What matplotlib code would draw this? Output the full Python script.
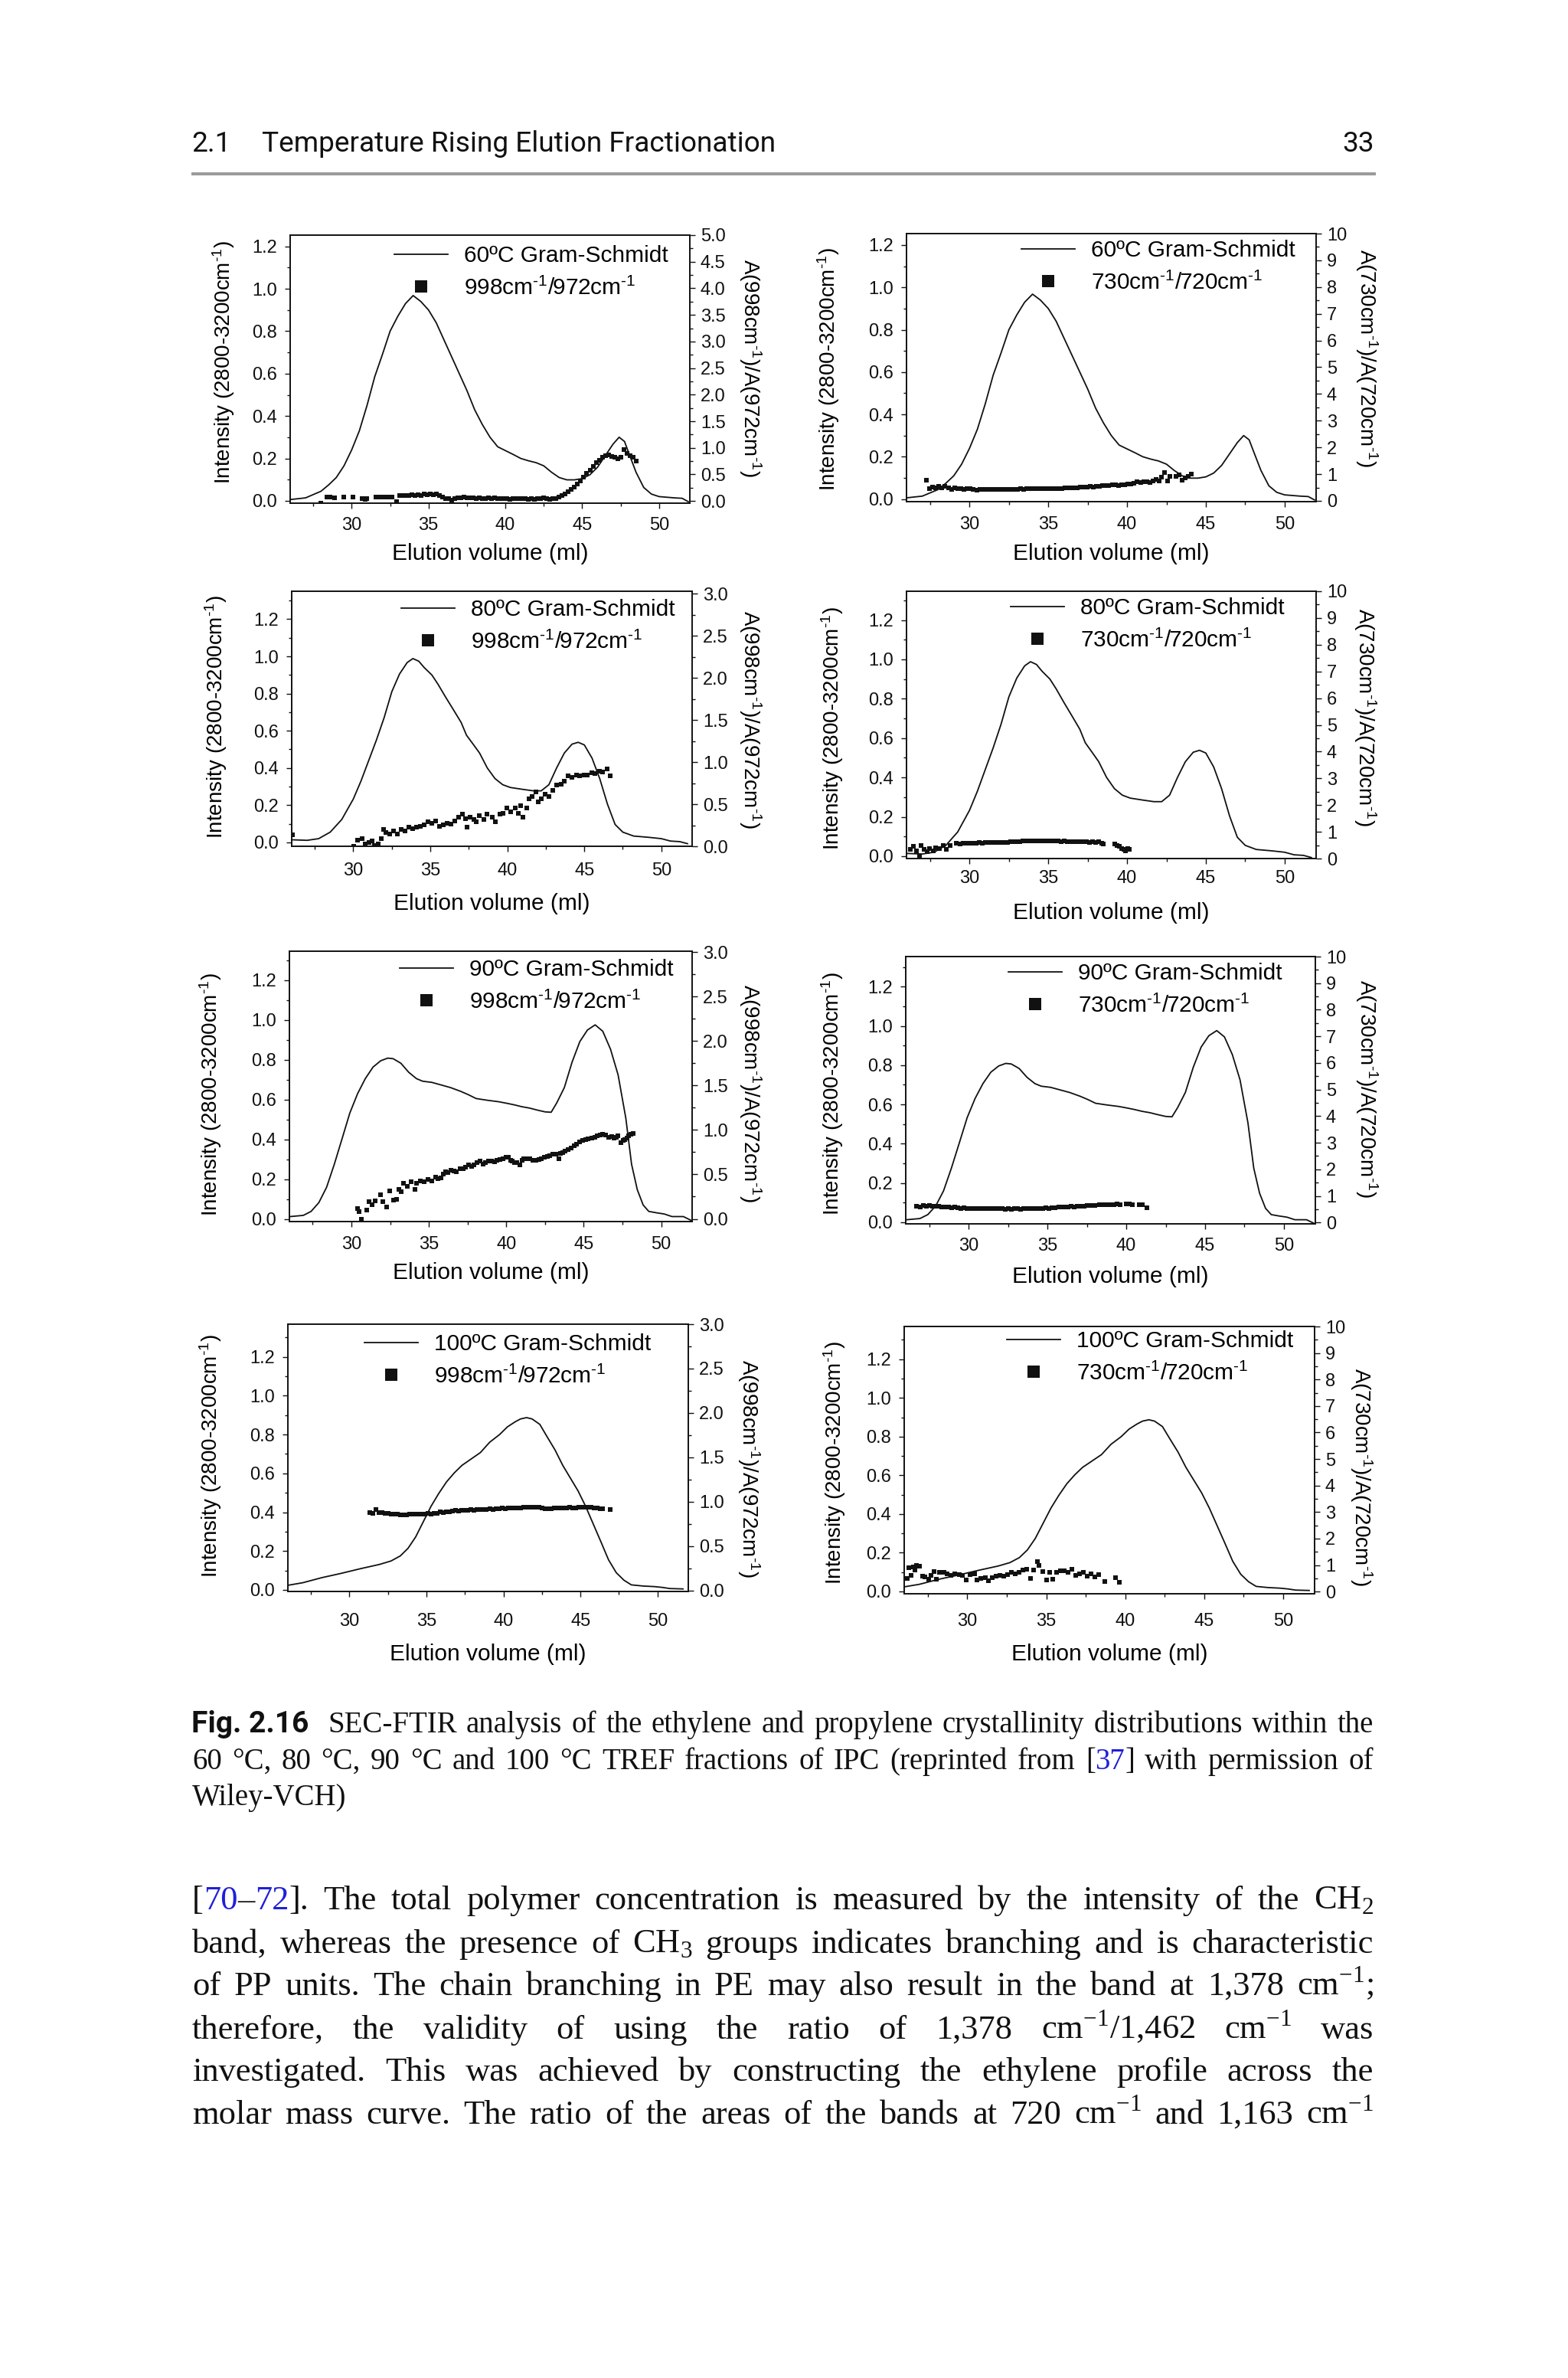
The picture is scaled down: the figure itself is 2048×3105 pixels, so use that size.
"""SEC-FTIR page: Gram-Schmidt traces with band-ratio profiles for four TREF fractions."""

import matplotlib

matplotlib.use("Agg")
import matplotlib.pyplot as plt
from matplotlib import font_manager
from matplotlib.lines import Line2D
from matplotlib.ticker import FormatStrFormatter, MultipleLocator

W, H = 2048, 3105
INK = "#111111"
LINK = "#2020d8"

# Gram-Schmidt traces (elution volume ml, intensity)
CURVE_60 = [
    (26.0, 0.006), (27.0, 0.014), (28.0, 0.045), (28.5, 0.075), (29.0, 0.11), (29.5, 0.165),
    (30.0, 0.24), (30.5, 0.33), (31.0, 0.45), (31.5, 0.585), (32.0, 0.69), (32.5, 0.80),
    (33.0, 0.87), (33.5, 0.93), (34.0, 0.968), (34.5, 0.94), (35.0, 0.90), (35.5, 0.84),
    (36.0, 0.76), (36.5, 0.68), (37.0, 0.60), (37.5, 0.52), (38.0, 0.43), (38.5, 0.36),
    (39.0, 0.30), (39.5, 0.255), (40.0, 0.237), (40.5, 0.219), (41.0, 0.20), (41.5, 0.189),
    (42.0, 0.18), (42.5, 0.165), (43.0, 0.135), (43.5, 0.11), (44.0, 0.099), (44.5, 0.099),
    (45.0, 0.105), (45.5, 0.123), (46.0, 0.159), (46.5, 0.213), (47.0, 0.267), (47.4, 0.30),
    (47.75, 0.28), (48.0, 0.231), (48.5, 0.135), (49.0, 0.063), (49.5, 0.032), (50.0, 0.02),
    (51.0, 0.014), (51.5, 0.012), (51.9, -0.004),
]
CURVE_80 = [
    (26.0, 0.014), (27.0, 0.011), (27.75, 0.02), (28.5, 0.055), (29.25, 0.123), (30.0, 0.233),
    (30.5, 0.33), (31.0, 0.44), (31.5, 0.55), (32.0, 0.67), (32.5, 0.81), (33.0, 0.905),
    (33.5, 0.967), (33.87, 0.988), (34.25, 0.974), (34.6, 0.94), (35.1, 0.90), (35.5, 0.85),
    (36.0, 0.78), (36.5, 0.713), (37.0, 0.645), (37.35, 0.576), (37.85, 0.52), (38.2, 0.48),
    (38.7, 0.40), (39.2, 0.343), (39.7, 0.31), (40.2, 0.295), (41.0, 0.285), (41.7, 0.277),
    (42.2, 0.277), (42.7, 0.31), (43.2, 0.40), (43.7, 0.48), (44.2, 0.528), (44.6, 0.538),
    (45.0, 0.524), (45.5, 0.453), (46.0, 0.343), (46.5, 0.206), (47.0, 0.096), (47.5, 0.055),
    (48.2, 0.034), (49.2, 0.027), (50.0, 0.02), (50.6, 0.007), (51.2, 0.004), (51.7, -0.007),
]
CURVE_90 = [
    (26.06, 0.013), (26.9, 0.019), (27.4, 0.039), (27.9, 0.083), (28.4, 0.16), (28.9, 0.276),
    (29.4, 0.404), (29.9, 0.533), (30.4, 0.63), (30.9, 0.706), (31.4, 0.764), (31.9, 0.796),
    (32.35, 0.809), (32.7, 0.806), (33.2, 0.783), (33.7, 0.738), (34.2, 0.706), (34.6, 0.693),
    (35.2, 0.687), (35.8, 0.674), (36.4, 0.661), (37.06, 0.642), (37.56, 0.625), (38.05, 0.606),
    (38.8, 0.597), (39.5, 0.59), (40.04, 0.582), (40.53, 0.574), (41.0, 0.565), (41.5, 0.558),
    (42.0, 0.548), (42.5, 0.539), (42.9, 0.537), (43.26, 0.584), (43.75, 0.661), (44.25, 0.789),
    (44.75, 0.892), (45.24, 0.95), (45.74, 0.976), (46.23, 0.944), (46.73, 0.854), (47.22, 0.725),
    (47.72, 0.507), (48.09, 0.276), (48.46, 0.148), (48.84, 0.071), (49.2, 0.039), (49.7, 0.032),
    (50.2, 0.026), (50.7, 0.013), (51.44, 0.013), (51.93, -0.006),
]
CURVE_100 = [
    (25.8, 0.021), (26.97, 0.037), (28.2, 0.063), (29.45, 0.085), (30.7, 0.109), (31.94, 0.131),
    (32.7, 0.149), (33.3, 0.175), (33.8, 0.214), (34.3, 0.273), (34.8, 0.352), (35.3, 0.431),
    (35.8, 0.497), (36.3, 0.556), (36.8, 0.602), (37.3, 0.641), (37.9, 0.674), (38.5, 0.707),
    (39.1, 0.76), (39.75, 0.80), (40.25, 0.839), (40.75, 0.865), (41.1, 0.88), (41.5, 0.887),
    (41.86, 0.88), (42.36, 0.852), (42.85, 0.786), (43.35, 0.72), (43.85, 0.641), (44.34, 0.576),
    (44.84, 0.51), (45.33, 0.431), (45.83, 0.339), (46.33, 0.247), (46.82, 0.155), (47.32, 0.089),
    (47.82, 0.05), (48.3, 0.026), (49.06, 0.02), (49.8, 0.017), (50.3, 0.013), (50.8, 0.007),
    (51.66, 0.005),
]

# band-ratio profiles (elution volume ml, absorbance ratio)
RATIO_60_998 = [
    (28.0, -0.04), (28.4, 0.08), (28.6, 0.07), (28.9, 0.06), (29.5, 0.07), (30.1, 0.08),
    (30.7, 0.05), (30.9, 0.03), (31.0, 0.04), (31.6, 0.08), (31.8, 0.08), (32.0, 0.08),
    (32.2, 0.08), (32.4, 0.08), (32.6, 0.08), (32.9, -0.01), (33.1, 0.10), (33.3, 0.10),
    (33.5, 0.11), (33.7, 0.10), (33.9, 0.12), (34.1, 0.11), (34.3, 0.12), (34.5, 0.11),
    (34.7, 0.13), (34.9, 0.12), (35.1, 0.13), (35.3, 0.12), (35.5, 0.13), (35.7, 0.10),
    (35.9, 0.08), (36.1, 0.05), (36.3, 0.04), (36.5, 0.02), (36.7, 0.04), (36.9, 0.06),
    (37.1, 0.06), (37.3, 0.07), (37.5, 0.06), (37.7, 0.06), (37.9, 0.06), (38.1, 0.05),
    (38.3, 0.06), (38.5, 0.05), (38.7, 0.05), (38.9, 0.06), (39.1, 0.05), (39.3, 0.06),
    (39.5, 0.05), (39.7, 0.05), (39.9, 0.04), (40.1, 0.05), (40.3, 0.03), (40.5, 0.05),
    (40.7, 0.04), (40.9, 0.05), (41.1, 0.04), (41.3, 0.04), (41.5, 0.03), (41.7, 0.04),
    (41.9, 0.03), (42.1, 0.04), (42.3, 0.05), (42.5, 0.06), (42.7, 0.05), (42.9, 0.03),
    (43.1, 0.04), (43.3, 0.05), (43.5, 0.07), (43.7, 0.10), (43.9, 0.13), (44.1, 0.18),
    (44.3, 0.22), (44.5, 0.26), (44.7, 0.32), (44.9, 0.38), (45.1, 0.45), (45.3, 0.52),
    (45.5, 0.58), (45.7, 0.65), (45.9, 0.72), (46.1, 0.77), (46.3, 0.82), (46.5, 0.85),
    (46.7, 0.87), (46.9, 0.84), (47.1, 0.83), (47.3, 0.80), (47.5, 0.82), (47.7, 0.97),
    (47.9, 0.90), (48.1, 0.85), (48.3, 0.82), (48.5, 0.75),
]
RATIO_60_730 = [
    (27.27, 0.76), (27.45, 0.45), (27.65, 0.52), (27.85, 0.50), (28.05, 0.54), (28.25, 0.50),
    (28.45, 0.53), (28.65, 0.49), (28.85, 0.44), (29.05, 0.50), (29.25, 0.46), (29.45, 0.47),
    (29.65, 0.44), (29.85, 0.46), (30.05, 0.45), (30.25, 0.44), (30.45, 0.41), (30.65, 0.43),
    (30.85, 0.42), (31.05, 0.43), (31.25, 0.42), (31.45, 0.43), (31.65, 0.42), (31.85, 0.43),
    (32.05, 0.42), (32.25, 0.43), (32.45, 0.44), (32.65, 0.43), (32.85, 0.44), (33.05, 0.44),
    (33.25, 0.45), (33.45, 0.44), (33.65, 0.45), (33.85, 0.45), (34.05, 0.46), (34.25, 0.45),
    (34.45, 0.46), (34.65, 0.46), (34.85, 0.47), (35.05, 0.46), (35.25, 0.47), (35.45, 0.46),
    (35.65, 0.47), (35.85, 0.47), (36.05, 0.48), (36.25, 0.48), (36.45, 0.50), (36.65, 0.49),
    (36.85, 0.50), (37.05, 0.51), (37.25, 0.52), (37.45, 0.52), (37.65, 0.53), (37.85, 0.52),
    (38.05, 0.54), (38.25, 0.55), (38.45, 0.56), (38.65, 0.58), (38.85, 0.57), (39.05, 0.59),
    (39.25, 0.60), (39.45, 0.58), (39.65, 0.61), (39.85, 0.60), (40.05, 0.62), (40.25, 0.64),
    (40.45, 0.66), (40.65, 0.71), (40.85, 0.68), (41.05, 0.71), (41.25, 0.72), (41.45, 0.69),
    (41.65, 0.74), (41.85, 0.80), (42.05, 0.74), (42.2, 0.88), (42.37, 1.05), (42.55, 0.75),
    (42.7, 0.92), (43.1, 0.93), (43.3, 0.96), (43.5, 0.78), (43.7, 0.86), (43.9, 0.92),
    (44.1, 1.0),
]
RATIO_80_998 = [
    (26.06, 0.14), (30.05, 0.0), (30.3, 0.076), (30.55, 0.09), (30.75, 0.03), (31.0, 0.045),
    (31.2, 0.06), (31.37, 0.01), (31.6, 0.03), (31.8, 0.09), (31.95, 0.197), (32.1, 0.167),
    (32.37, 0.15), (32.6, 0.18), (32.87, 0.15), (33.1, 0.197), (33.37, 0.18), (33.6, 0.227),
    (33.87, 0.21), (34.1, 0.227), (34.36, 0.24), (34.6, 0.258), (34.86, 0.288), (35.1, 0.27),
    (35.36, 0.30), (35.6, 0.24), (35.86, 0.258), (36.1, 0.27), (36.36, 0.26), (36.6, 0.30),
    (36.86, 0.35), (37.1, 0.38), (37.3, 0.33), (37.4, 0.227), (37.6, 0.35), (37.85, 0.32),
    (38.0, 0.29), (38.2, 0.36), (38.5, 0.32), (38.7, 0.38), (39.0, 0.35), (39.2, 0.29),
    (39.5, 0.38), (39.7, 0.39), (39.97, 0.455), (40.2, 0.41), (40.5, 0.455), (40.7, 0.39),
    (40.85, 0.485), (41.0, 0.35), (41.27, 0.455), (41.4, 0.56), (41.6, 0.59), (41.85, 0.645),
    (42.0, 0.53), (42.2, 0.56), (42.47, 0.62), (42.7, 0.59), (42.97, 0.667), (43.2, 0.727),
    (43.5, 0.74), (43.7, 0.77), (43.97, 0.833), (44.2, 0.818), (44.5, 0.85), (44.7, 0.833),
    (45.0, 0.85), (45.2, 0.85), (45.5, 0.87), (45.7, 0.864), (45.96, 0.894), (46.2, 0.88),
    (46.46, 0.918), (46.66, 0.833),
]
RATIO_80_730 = [
    (26.26, 0.33), (26.43, 0.45), (26.62, 0.29), (26.81, 0.10), (26.91, 0.50), (27.1, 0.33),
    (27.29, 0.26), (27.46, 0.38), (27.71, 0.29), (27.87, 0.41), (28.07, 0.38), (28.31, 0.48),
    (28.55, 0.33), (28.79, 0.50), (29.15, 0.57), (29.4, 0.55), (29.6, 0.57), (29.8, 0.58),
    (30.0, 0.57), (30.2, 0.58), (30.4, 0.57), (30.6, 0.59), (30.8, 0.58), (31.0, 0.59),
    (31.2, 0.60), (31.4, 0.59), (31.6, 0.60), (31.8, 0.59), (32.0, 0.60), (32.2, 0.61),
    (32.4, 0.60), (32.6, 0.62), (32.8, 0.63), (33.0, 0.64), (33.2, 0.64), (33.4, 0.65),
    (33.6, 0.65), (33.8, 0.66), (34.0, 0.65), (34.2, 0.66), (34.4, 0.66), (34.6, 0.65),
    (34.8, 0.66), (35.0, 0.66), (35.2, 0.65), (35.4, 0.66), (35.6, 0.65), (35.8, 0.64),
    (36.0, 0.65), (36.2, 0.64), (36.4, 0.64), (36.6, 0.63), (36.8, 0.64), (37.0, 0.63),
    (37.2, 0.62), (37.4, 0.63), (37.6, 0.61), (37.8, 0.63), (38.0, 0.60), (38.2, 0.62),
    (38.4, 0.57), (38.5, 0.54), (39.2, 0.55), (39.35, 0.48), (39.5, 0.45), (39.66, 0.38),
    (39.8, 0.35), (39.9, 0.29), (40.05, 0.37), (40.15, 0.34),
]
RATIO_90_998 = [
    (30.4, 0.115), (30.52, 0.086), (30.67, 0.0), (31.0, 0.10), (31.12, 0.19), (31.36, 0.158),
    (31.56, 0.20), (31.86, 0.27), (32.05, 0.19), (32.3, 0.13), (32.47, 0.316), (32.73, 0.215),
    (32.9, 0.22), (33.05, 0.33), (33.22, 0.31), (33.35, 0.40), (33.6, 0.37), (33.85, 0.417),
    (34.1, 0.33), (34.22, 0.40), (34.46, 0.43), (34.71, 0.417), (34.96, 0.445), (35.2, 0.43),
    (35.45, 0.47), (35.6, 0.45), (35.77, 0.46), (35.92, 0.50), (36.07, 0.53), (36.25, 0.52),
    (36.45, 0.546), (36.62, 0.54), (36.8, 0.53), (37.0, 0.56), (37.2, 0.566), (37.38, 0.58),
    (37.56, 0.603), (37.75, 0.59), (37.93, 0.603), (38.1, 0.63), (38.3, 0.647), (38.5, 0.62),
    (38.67, 0.632), (38.85, 0.65), (39.05, 0.647), (39.25, 0.64), (39.42, 0.66), (39.6, 0.67),
    (39.79, 0.675), (39.98, 0.69), (40.16, 0.69), (40.3, 0.66), (40.4, 0.647), (40.55, 0.63),
    (40.66, 0.632), (40.9, 0.603), (41.02, 0.66), (41.15, 0.675), (41.35, 0.68), (41.52, 0.675),
    (41.7, 0.66), (41.9, 0.66), (42.1, 0.67), (42.27, 0.68), (42.45, 0.69), (42.64, 0.704),
    (42.8, 0.71), (43.0, 0.727), (43.2, 0.73), (43.38, 0.675), (43.5, 0.74), (43.63, 0.747),
    (43.8, 0.76), (44.0, 0.776), (44.2, 0.80), (44.37, 0.82), (44.55, 0.84), (44.75, 0.862),
    (44.95, 0.88), (45.12, 0.89), (45.3, 0.90), (45.5, 0.905), (45.7, 0.92), (45.86, 0.934),
    (46.05, 0.94), (46.23, 0.948), (46.4, 0.94), (46.6, 0.92), (46.8, 0.93), (46.98, 0.905),
    (47.1, 0.92), (47.22, 0.934), (47.4, 0.853), (47.55, 0.88), (47.67, 0.89), (47.8, 0.91),
    (47.9, 0.934), (48.05, 0.95), (48.2, 0.963),
]
RATIO_90_730 = [
    (26.7, 0.62), (26.9, 0.58), (27.1, 0.63), (27.3, 0.60), (27.5, 0.64), (27.7, 0.62),
    (27.9, 0.61), (28.1, 0.60), (28.3, 0.59), (28.5, 0.58), (28.7, 0.57), (28.9, 0.56),
    (29.1, 0.57), (29.3, 0.55), (29.5, 0.54), (29.7, 0.55), (29.9, 0.53), (30.1, 0.54),
    (30.3, 0.53), (30.5, 0.54), (30.7, 0.53), (30.9, 0.54), (31.1, 0.53), (31.3, 0.52),
    (31.5, 0.53), (31.7, 0.52), (31.9, 0.53), (32.1, 0.52), (32.3, 0.51), (32.5, 0.52),
    (32.7, 0.51), (32.9, 0.52), (33.1, 0.53), (33.3, 0.51), (33.5, 0.52), (33.7, 0.53),
    (33.9, 0.52), (34.1, 0.53), (34.3, 0.52), (34.5, 0.54), (34.7, 0.53), (34.9, 0.55),
    (35.1, 0.54), (35.3, 0.56), (35.5, 0.55), (35.7, 0.57), (35.9, 0.58), (36.1, 0.57),
    (36.3, 0.59), (36.5, 0.60), (36.7, 0.59), (36.9, 0.61), (37.1, 0.62), (37.3, 0.61),
    (37.5, 0.63), (37.7, 0.64), (38.0, 0.65), (38.3, 0.66), (38.6, 0.67), (38.8, 0.66),
    (39.0, 0.68), (39.2, 0.67), (39.4, 0.69), (39.6, 0.68), (40.0, 0.70), (40.2, 0.69),
    (40.4, 0.68), (40.8, 0.67), (41.0, 0.66), (41.3, 0.56),
]
RATIO_100_998 = [
    (31.3, 0.88), (31.5, 0.87), (31.7, 0.91), (31.9, 0.88), (32.1, 0.88), (32.3, 0.87),
    (32.5, 0.87), (32.7, 0.865), (32.9, 0.86), (33.1, 0.86), (33.3, 0.855), (33.5, 0.856),
    (33.7, 0.855), (33.9, 0.858), (34.1, 0.86), (34.3, 0.858), (34.5, 0.862), (34.7, 0.86),
    (34.9, 0.865), (35.1, 0.87), (35.3, 0.865), (35.5, 0.872), (35.7, 0.87), (35.9, 0.885),
    (36.1, 0.88), (36.3, 0.89), (36.5, 0.888), (36.7, 0.892), (36.9, 0.90), (37.1, 0.897),
    (37.3, 0.905), (37.5, 0.902), (37.7, 0.908), (37.9, 0.91), (38.1, 0.908), (38.3, 0.913),
    (38.5, 0.912), (38.7, 0.915), (38.9, 0.91), (39.1, 0.918), (39.3, 0.915), (39.5, 0.922),
    (39.7, 0.92), (39.9, 0.926), (40.1, 0.925), (40.3, 0.93), (40.5, 0.928), (40.7, 0.932),
    (40.9, 0.934), (41.1, 0.93), (41.3, 0.936), (41.5, 0.938), (41.7, 0.94), (41.9, 0.94),
    (42.1, 0.942), (42.3, 0.938), (42.5, 0.93), (42.7, 0.925), (42.9, 0.922), (43.1, 0.925),
    (43.3, 0.928), (43.5, 0.926), (43.7, 0.93), (43.9, 0.928), (44.1, 0.932), (44.3, 0.935),
    (44.5, 0.934), (44.7, 0.932), (44.9, 0.938), (45.1, 0.936), (45.3, 0.94), (45.5, 0.942),
    (45.7, 0.936), (45.9, 0.93), (46.1, 0.932), (46.3, 0.925), (46.45, 0.92), (46.95, 0.91),
]
RATIO_100_730 = [
    (26.19, 0.51), (26.27, 0.91), (26.44, 0.62), (26.56, 0.93), (26.68, 0.81), (26.8, 1.0),
    (26.99, 0.96), (27.16, 0.57), (27.33, 0.55), (27.53, 0.48), (27.72, 0.60), (27.89, 0.77),
    (28.06, 0.48), (28.25, 0.72), (28.5, 0.74), (28.74, 0.67), (28.98, 0.62), (29.22, 0.67),
    (29.47, 0.64), (29.71, 0.62), (29.95, 0.43), (30.19, 0.64), (30.44, 0.67), (30.63, 0.43),
    (30.87, 0.51), (31.12, 0.53), (31.36, 0.40), (31.6, 0.53), (31.84, 0.57), (32.08, 0.62),
    (32.33, 0.57), (32.57, 0.64), (32.81, 0.72), (33.05, 0.67), (33.3, 0.74), (33.54, 0.81),
    (33.78, 0.83), (34.02, 0.51), (34.19, 0.81), (34.44, 1.12), (34.56, 0.99), (34.8, 0.77),
    (35.04, 0.43), (35.24, 0.72), (35.41, 0.48), (35.65, 0.72), (35.89, 0.78), (36.13, 0.78),
    (36.38, 0.72), (36.62, 0.83), (36.86, 0.62), (37.1, 0.67), (37.35, 0.72), (37.59, 0.57),
    (37.83, 0.67), (38.07, 0.55), (38.32, 0.64), (38.73, 0.38), (39.41, 0.53), (39.65, 0.36),
]

SUP = "$^{\\text{-}1}$"
CURVE_LABELS = ["60ºC Gram-Schmidt", "80ºC Gram-Schmidt", "90ºC Gram-Schmidt", "100ºC Gram-Schmidt"]
BAND_LABELS = [f"998cm{SUP}/972cm{SUP}", f"730cm{SUP}/720cm{SUP}"]
RIGHT_LABELS = [f"A(998cm{SUP})/A(972cm{SUP})", f"A(730cm{SUP})/A(720cm{SUP})"]
X_LABEL = "Elution volume (ml)"
Y_LABEL = f"Intensity (2800-3200cm{SUP})"

HEADER_SECTION = "2.1"
HEADER_TITLE = "Temperature Rising Elution Fractionation"
PAGE_NUMBER = "33"
CAPTION_TAG = "Fig. 2.16"
CAPTION_LINES = [
    "SEC-FTIR analysis of the ethylene and propylene crystallinity distributions within the",
    "60 °C, 80 °C, 90 °C and 100 °C TREF fractions of IPC (reprinted from [«37»] with permission of",
    "Wiley-VCH)",
]
BODY_LINES = [
    "[«70»–«72»]. The total polymer concentration is measured by the intensity of the CH$_{\\mathregular{2}}$",
    "band, whereas the presence of CH$_{\\mathregular{3}}$ groups indicates branching and is characteristic",
    "of PP units. The chain branching in PE may also result in the band at 1,378 cm$^{\\mathregular{-1}}$;",
    "therefore, the validity of using the ratio of 1,378 cm$^{\\mathregular{-1}}$/1,462 cm$^{\\mathregular{-1}}$ was",
    "investigated. This was achieved by constructing the ethylene profile across the",
    "molar mass curve. The ratio of the areas of the bands at 720 cm$^{\\mathregular{-1}}$ and 1,163 cm$^{\\mathregular{-1}}$",
]

# panel order: row by row, left (998/972) then right (730/720)
PANELS = [
    (CURVE_60, RATIO_60_998, 0, 0), (CURVE_60, RATIO_60_730, 0, 1),
    (CURVE_80, RATIO_80_998, 1, 0), (CURVE_80, RATIO_80_730, 1, 1),
    (CURVE_90, RATIO_90_998, 2, 0), (CURVE_90, RATIO_90_730, 2, 1),
    (CURVE_100, RATIO_100_998, 3, 0), (CURVE_100, RATIO_100_730, 3, 1),
]

# page geometry in pixels: box (l, t, r, b), left ylim, right ylim, x tick pad (pt),
# x label y, left label (x, y), right label (x, y), legend first row (x, y)
LAYOUT = [
    ((379, 307, 901, 657), (-0.011, 1.253), (-0.04, 5.0), 9.0, 723, (292, 473), (980, 480), (515, 337)),
    ((1184, 305, 1719, 655), (-0.012, 1.254), (-0.03, 10.0), 9.7, 723, (1082, 482), (1785, 467), (1334, 330)),
    ((381, 772, 904, 1105), (-0.021, 1.35), (0.0, 3.03), 11.2, 1180, (282, 936), (980, 939), (524, 799)),
    ((1184, 772, 1719, 1121), (-0.012, 1.346), (0.0, 10.0), 6.8, 1192, (1087, 951), (1783, 936), (1320, 797)),
    ((378, 1242, 904, 1595), (-0.012, 1.346), (-0.03, 3.01), 9.7, 1662, (275, 1429), (980, 1427), (522, 1269)),
    ((1183, 1249, 1718, 1598), (-0.008, 1.353), (-0.05, 10.0), 9.0, 1667, (1087, 1428), (1785, 1421), (1317, 1274)),
    ((376, 1729, 899, 2078), (-0.008, 1.368), (-0.01, 3.0), 16.2, 2160, (275, 1901), (978, 1917), (476, 1758)),
    ((1181, 1732, 1717, 2081), (-0.012, 1.369), (-0.08, 10.0), 14.0, 2160, (1090, 1910), (1778, 1928), (1315, 1754)),
]

AVAILABLE = {f.name for f in font_manager.fontManager.ttflist}


def first_font(*names):
    for name in names:
        if name in AVAILABLE:
            return name
    return "DejaVu Sans"


CHART_FONT = first_font("Liberation Sans", "DejaVu Sans")
HEAD_FONT = first_font("Liberation Sans Narrow", "DejaVu Sans Condensed", "Roboto", "Lato")
TEXT_FONT = first_font("Liberation Serif", "DejaVu Serif")


def fy(py):
    return 1 - py / H


def draw_panel(fig, curve, ratio, row, band, layout):
    (l, t, r, b), ylim, y2lim, xpad, xlab_y, ylab, y2lab, leg = layout
    width, height = r - l, b - t
    ax = fig.add_axes([l / W, fy(b), width / W, height / H])
    ax2 = ax.twinx()

    cx, cy = zip(*curve)
    ax.plot(cx, cy, "-", color=INK, lw=1.3)
    rx, ry = zip(*ratio)
    ax2.plot(rx, ry, ls="none", marker="s", ms=3.7, mew=0, color=INK)

    ax.set_xlim(26, 52)
    ax.set_ylim(*ylim)
    ax2.set_ylim(*y2lim)
    ax.xaxis.set_major_locator(MultipleLocator(5))
    ax.xaxis.set_minor_locator(MultipleLocator(2.5))
    ax.yaxis.set_major_locator(MultipleLocator(0.2))
    ax.yaxis.set_minor_locator(MultipleLocator(0.1))
    ax.yaxis.set_major_formatter(FormatStrFormatter("%.1f"))
    if band == 0:
        ax2.yaxis.set_major_locator(MultipleLocator(0.5))
        ax2.yaxis.set_minor_locator(MultipleLocator(0.25))
        ax2.yaxis.set_major_formatter(FormatStrFormatter("%.1f"))
    else:
        ax2.yaxis.set_major_locator(MultipleLocator(1))
        ax2.yaxis.set_minor_locator(MultipleLocator(0.5))
        ax2.yaxis.set_major_formatter(FormatStrFormatter("%d"))

    for a in (ax, ax2):
        for spine in a.spines.values():
            spine.set_linewidth(1.2)
            spine.set_color(INK)
        a.tick_params(which="both", direction="out", width=1.0, colors=INK, labelsize=17, top=False)
        a.tick_params(which="major", length=5)
        a.tick_params(which="minor", length=3)
    ax.tick_params(axis="x", which="major", pad=xpad - 1)
    ax.tick_params(axis="y", which="major", pad=7)
    ax2.tick_params(axis="y", which="major", pad=5)

    ax.set_xlabel(X_LABEL, fontsize=21.5, va="center")
    ax.xaxis.set_label_coords(0.5, (b - xlab_y) / height)
    ax.set_ylabel(Y_LABEL, fontsize=20, va="center", ha="center")
    ax.yaxis.set_label_coords((ylab[0] - l) / width, (b - ylab[1]) / height)
    ax2.set_ylabel(RIGHT_LABELS[band], fontsize=20, rotation=-90, va="center", ha="center")
    ax2.yaxis.set_label_coords((y2lab[0] - l) / width, (b - y2lab[1]) / height)

    handles = [
        Line2D([], [], color=INK, lw=1.3),
        Line2D([], [], ls="none", marker="s", ms=12, mew=0, color=INK),
    ]
    ax2.legend(
        handles,
        [CURVE_LABELS[row], BAND_LABELS[band]],
        loc="upper left",
        bbox_to_anchor=(leg[0] / W, fy(leg[1] - 17)),
        bbox_transform=fig.transFigure,
        frameon=False,
        fontsize=21.5,
        handlelength=2.35,
        handletextpad=0.7,
        labelspacing=0.45,
        borderpad=0,
        borderaxespad=0,
    )


def pieces_of(word):
    # «...» marks link-coloured text
    pieces, buf, blue = [], "", False
    for ch in word:
        if ch in "«»":
            if buf:
                pieces.append((buf, LINK if blue else INK))
            buf, blue = "", ch == "«"
        else:
            buf += ch
    if buf:
        pieces.append((buf, LINK if blue else INK))
    return pieces


def set_line(fig, renderer, text, y, x0, x1, size, justify=True):
    words = []
    for word in text.split(" "):
        arts = [
            fig.text(0, fy(y), s, fontsize=size, family=TEXT_FONT, color=c, va="baseline", ha="left")
            for s, c in pieces_of(word)
        ]
        words.append((arts, [a.get_window_extent(renderer).width for a in arts]))
    total = sum(sum(ws) for _, ws in words)
    gap = size * 100 / 72 * 0.25
    if justify and len(words) > 1:
        gap = (x1 - x0 - total) / (len(words) - 1)
    x = x0
    for arts, ws in words:
        for a, w in zip(arts, ws):
            a.set_x(x / W)
            x += w
        x += gap


def fit_text(renderer, artist, target):
    size = artist.get_fontsize()
    width = artist.get_window_extent(renderer).width
    artist.set_fontsize(size * target / width)


def main():
    plt.rcParams["font.family"] = CHART_FONT
    plt.rcParams["mathtext.fontset"] = "custom"
    plt.rcParams["mathtext.rm"] = CHART_FONT
    plt.rcParams["mathtext.it"] = CHART_FONT + ":italic"
    plt.rcParams["mathtext.bf"] = CHART_FONT + ":bold"
    fig = plt.figure(figsize=(W / 100, H / 100), dpi=100)
    fig.patch.set_facecolor("white")
    renderer = fig.canvas.get_renderer()

    for (curve, ratio, row, band), layout in zip(PANELS, LAYOUT):
        draw_panel(fig, curve, ratio, row, band, layout)

    # running head
    title = fig.text(342 / W, fy(198), HEADER_TITLE, family=HEAD_FONT, fontsize=24, va="baseline", color=INK)
    fit_text(renderer, title, 672)
    size = title.get_fontsize()
    fig.text(250 / W, fy(198), HEADER_SECTION, family=HEAD_FONT, fontsize=size, va="baseline", color=INK)
    fig.text(1795 / W, fy(198), PAGE_NUMBER, family=HEAD_FONT, fontsize=size, va="baseline", ha="right", color=INK)
    fig.add_artist(Line2D([252 / W, 1795 / W], [fy(227)] * 2, transform=fig.transFigure, color="#9a9a9a", lw=2.9))

    # caption
    tag = fig.text(250 / W, fy(2262), CAPTION_TAG, family=HEAD_FONT, weight="bold", fontsize=24, va="baseline", color=INK)
    fit_text(renderer, tag, 153)
    caption_y = [2262, 2310, 2357]
    set_line(fig, renderer, CAPTION_LINES[0], caption_y[0], 428, 1794, 28)
    set_line(fig, renderer, CAPTION_LINES[1], caption_y[1], 251, 1794, 28)
    set_line(fig, renderer, CAPTION_LINES[2], caption_y[2], 251, 1794, 28, justify=False)

    # body text
    body_y = [2493, 2550, 2605, 2662, 2717, 2773]
    for line, y in zip(BODY_LINES, body_y):
        set_line(fig, renderer, line, y, 251, 1794, 32)

    fig.savefig("out.png", dpi=100, facecolor="white")
    plt.close(fig)


if __name__ == "__main__":
    main()
